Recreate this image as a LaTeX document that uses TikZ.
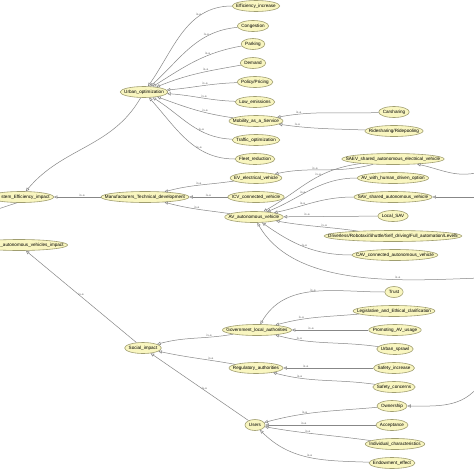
\documentclass[tikz,border=0pt]{standalone}
\usepackage{fontspec}
\setmainfont{Liberation Sans}
\usetikzlibrary{shapes.geometric,arrows.meta}
\definecolor{nfill}{HTML}{F9F6C0}
\definecolor{ndraw}{HTML}{A09E70}
\definecolor{ecol}{HTML}{878787}
\definecolor{lcol}{HTML}{707070}
\newcommand\ovl[1]{\sbox0{#1}\makebox[\dimexpr 0.7071\wd0+5.66pt\relax]{\usebox0}}
\tikzset{
  ont/.style={ellipse, draw=ndraw, fill=nfill, line width=0.6pt, inner sep=0pt,
    minimum height=11pt, font=\fontsize{4.6}{5}\selectfont, text=black},
  isa/.style={draw=ecol, line width=0.5pt, -{Triangle[open, length=3.5pt, width=3.2pt]}},
  isaplain/.style={draw=ecol, line width=0.5pt},
  lbl/.style={font=\fontsize{3.1}{3.1}\selectfont, text=lcol, inner sep=0.5pt, above}
}
\begin{document}
\begin{tikzpicture}[x=1pt,y=1pt]
\useasboundingbox (0,0) rectangle (474,-474);
\fill[white] (0,0) rectangle (474,-474);
\node[ont] (sys) at (21,-197) {\ovl{\hspace{9pt}stem\_Efficiency\_impact}};
\node[ont] (root) at (19,-245) {\ovl{\hspace{26pt}\_autonomous\_vehicles\_impact}};
\node[ont] (uo) at (144,-92) {\ovl{Urban\_optimization}};
\node[ont] (eff) at (256,-6) {\ovl{Efficiency\_increase}};
\node[ont] (con) at (253,-26) {\ovl{Congestion}};
\node[ont] (park) at (253,-44) {\ovl{Parking}};
\node[ont] (dem) at (253,-63) {\ovl{Demand}};
\node[ont] (pol) at (255,-82) {\ovl{Policy/Pricing}};
\node[ont] (low) at (255,-102) {\ovl{Low\_emissions}};
\node[ont] (maas) at (256,-121) {\ovl{Mobility\_as\_a\_Service}};
\node[ont] (traf) at (256,-140) {\ovl{Traffic\_optimization}};
\node[ont] (fleet) at (255,-159) {\ovl{Fleet\_reduction}};
\node[ont] (car) at (394,-112) {\ovl{Carsharing}};
\node[ont] (ride) at (394,-131) {\ovl{Ridesharing/Ridepooling}};
\node[ont] (mtd) at (145,-197) {\ovl{Manufacturers\_Technical\_development}};
\node[ont] (ev) at (256,-178) {\ovl{EV\_electrical\_vehicle}};
\node[ont] (icv) at (256,-197) {\ovl{ICV\_connected\_vehicle}};
\node[ont] (av) at (254,-217) {\ovl{AV\_autonomous\_vehicle}};
\node[ont] (saev) at (393,-159) {\ovl{SAEV\_shared\_autonomous\_electrical\_vehicle}};
\node[ont] (avh) at (393,-178) {\ovl{AV\_with\_human\_driven\_option}};
\node[ont] (sav) at (393,-197) {\ovl{SAV\_shared\_autonomous\_vehicle}};
\node[ont] (lsav) at (393,-216) {\ovl{Local\_SAV}};
\node[ont] (drv) at (393,-236) {\ovl{Driverless/Robotaxi/Shuttle/Self\_driving/Full\_automation/Level5}};
\node[ont] (cav) at (395,-255) {\ovl{CAV\_connected\_autonomous\_vehicle}};
\node[ont] (soc) at (143,-348) {\ovl{Social\_impact}};
\node[ont] (gov) at (257,-330) {\ovl{Government\_local\_authorities}};
\node[ont] (reg) at (256,-368) {\ovl{Regulatory\_authorities}};
\node[ont] (usr) at (255,-425) {\ovl{Users}};
\node[ont] (trust) at (394,-292) {\ovl{Trust}};
\node[ont] (leg) at (394,-311) {\ovl{Legislative\_and\_Ethical\_clarification}};
\node[ont] (prom) at (395,-330) {\ovl{Promoting\_AV\_usage}};
\node[ont] (spr) at (395,-349) {\ovl{Urban\_sprawl}};
\node[ont] (sinc) at (394,-368) {\ovl{Safety\_increase}};
\node[ont] (scon) at (394,-387) {\ovl{Safety\_concerns}};
\node[ont] (own) at (392,-406) {\ovl{Ownership}};
\node[ont] (acc) at (392,-425) {\ovl{Acceptance}};
\node[ont] (ind) at (395,-444) {\ovl{Individual\_characteristics}};
\node[ont] (endo) at (392,-463) {\ovl{Endowment\_effect}};
\coordinate (xl1) at (-14,-213);
\coordinate (xr1) at (480,-172);
\coordinate (xr2) at (480,-197);
\coordinate (xr3) at (480,-278);
\coordinate (xr4) at (480,-384);
% top level
\draw[isa] (uo) to[out=240,in=50] (sys);
\draw[isa] (mtd) -- node[lbl,pos=.4]{is-a} (sys);
\draw[isaplain] (sys.235) -- (xl1);
\draw[isa] (soc) -- node[lbl,pos=.5]{is-a} (root);
% urban
\draw[isa] (eff) to[out=180,in=55] node[lbl,pos=.3]{is-a} (uo);
\draw[isa] (con) to[out=185,in=42] node[lbl,pos=.3]{is-a} (uo);
\draw[isa] (park) to[out=190,in=32] node[lbl,pos=.35]{is-a} (uo);
\draw[isa] (dem) to[out=190,in=22] node[lbl,pos=.4]{is-a} (uo);
\draw[isa] (pol) to[out=182,in=5] node[lbl,pos=.45]{is-a} (uo);
\draw[isa] (low) to[out=178,in=-4] node[lbl,pos=.45]{is-a} (uo);
\draw[isa] (maas) to[out=172,in=-20] node[lbl,pos=.35]{is-a} (uo);
\draw[isa] (traf) to[out=178,in=-32] node[lbl,pos=.35]{is-a} (uo);
\draw[isa] (fleet) to[out=180,in=-48] node[lbl,pos=.35]{is-a} (uo);
\draw[isa] (car) to[out=182,in=10] node[lbl,pos=.8]{is-a} (maas);
\draw[isa] (ride) to[out=178,in=-8] node[lbl,pos=.8]{is-a} (maas);
% manufacturers
\draw[isa] (ev) to[out=188,in=15] node[lbl,pos=.5]{is-a} (mtd);
\draw[isa] (icv) -- node[lbl,pos=.5]{is-a} (mtd);
\draw[isa] (av) to[out=172,in=-15] node[lbl,pos=.5]{is-a} (mtd);
\draw[isa] (saev) to[out=195,in=12] node[lbl,pos=.6]{is-a} (ev);
\draw[isa] (saev) to[out=188,in=30,looseness=1.1] node[lbl,pos=.4]{is-a} (av);
\draw[isa] (avh) to[out=180,in=22] node[lbl,pos=.6]{is-a} (av);
\draw[isa] (sav) to[out=180,in=12] node[lbl,pos=.65]{is-a} (av);
\draw[isa] (lsav) -- node[lbl,pos=.75]{is-a} (av);
\draw[isa] (drv) to[out=172,in=-10] node[lbl,pos=.4]{is-a} (av);
\draw[isa] (cav) to[out=180,in=-35] node[lbl,pos=.5]{is-a} (av);
\draw[isa] (xr3) to[out=182,in=-60,looseness=0.85] node[lbl,pos=.33]{is-a} (av);
\draw[isa] (xr1) to[out=195,in=-12] (saev);
\draw[isa] (xr2) -- (sav);
% social
\draw[isa] (gov) to[out=190,in=15] node[lbl,pos=.3]{is-a} (soc);
\draw[isa] (reg) to[out=170,in=-12] node[lbl,pos=.3]{is-a} (soc);
\draw[isa] (usr) -- node[lbl,pos=.45]{is-a} (soc);
\draw[isa] (trust) to[out=180,in=60] node[lbl,pos=.5]{is-a} (gov);
\draw[isa] (leg) to[out=185,in=15] node[lbl,pos=.7]{is-a} (gov);
\draw[isa] (prom) -- node[lbl,pos=.75]{is-a} (gov);
\draw[isa] (spr) to[out=172,in=-15] node[lbl,pos=.78]{is-a} (gov);
\draw[isa] (sinc) -- node[lbl,pos=.75]{is-a} (reg);
\draw[isa] (scon) to[out=172,in=-15] node[lbl,pos=.75]{is-a} (reg);
\draw[isa] (own) to[out=185,in=15] node[lbl,pos=.65]{is-a} (usr);
\draw[isa] (acc) -- node[lbl,pos=.65]{is-a} (usr);
\draw[isa] (ind) to[out=172,in=-10] node[lbl,pos=.6]{is-a} (usr);
\draw[isa] (endo) to[out=178,in=-45] node[lbl,pos=.5]{is-a} (usr);
\draw[isa] (xr4) to[out=235,in=0] (own);
\end{tikzpicture}
\end{document}
